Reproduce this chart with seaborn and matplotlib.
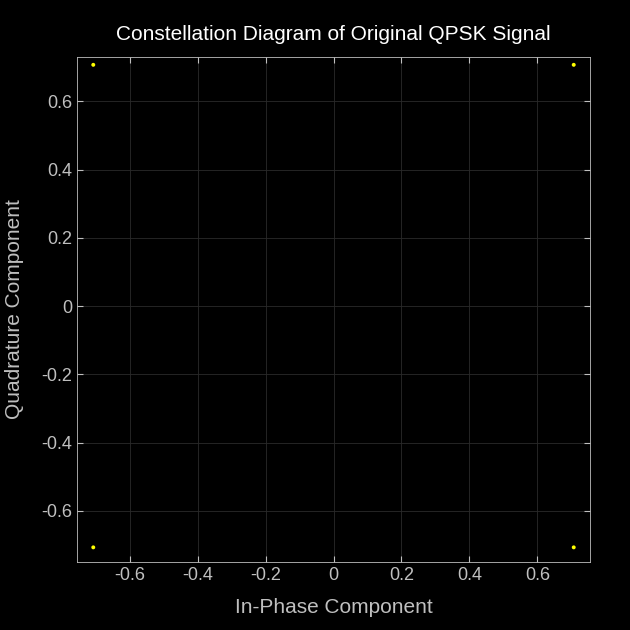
import numpy as np
import matplotlib
matplotlib.use('Agg')
import matplotlib.pyplot as plt
import seaborn as sns

# QPSK constellation points
in_phase = [0.7071, -0.7071, -0.7071, 0.7071]
quadrature = [0.7071, 0.7071, -0.7071, -0.7071]
ticks = [-0.6, -0.4, -0.2, 0, 0.2, 0.4, 0.6]
tick_labels = ['-0.6', '-0.4', '-0.2', '0', '0.2', '0.4', '0.6']

sns.set_style('dark')
plt.rcParams['font.family'] = ['Liberation Sans', 'DejaVu Sans']

fig = plt.figure(figsize=(6.3, 6.3), dpi=100, facecolor='black')
ax = fig.add_axes([77/630, 68/630, 513/630, 505/630])
ax.set_facecolor('black')

sns.scatterplot(x=in_phase, y=quadrature, color='yellow', s=8, edgecolor='none', ax=ax)

ax.set_xlim(-0.755, 0.755)
ax.set_ylim(-0.75, 0.73)
ax.set_xticks(ticks)
ax.set_xticklabels(tick_labels)
ax.set_yticks(ticks)
ax.set_yticklabels(tick_labels)
ax.grid(True, color='#2a2a2a', linewidth=0.6)
ax.tick_params(colors='#bfbfbf', labelsize=13, direction='in', length=4,
               top=True, right=True, bottom=True, left=True)
for s in ax.spines.values():
    s.set_color('#bfbfbf')
    s.set_linewidth(0.6)

ax.set_xlabel('In-Phase Component', color='#bfbfbf', fontsize=15, labelpad=10)
ax.set_ylabel('Quadrature Component', color='#bfbfbf', fontsize=15, labelpad=12)
ax.set_title('Constellation Diagram of Original QPSK Signal', color='white',
             fontsize=15, pad=12)

fig.savefig('out.png', facecolor='black')
